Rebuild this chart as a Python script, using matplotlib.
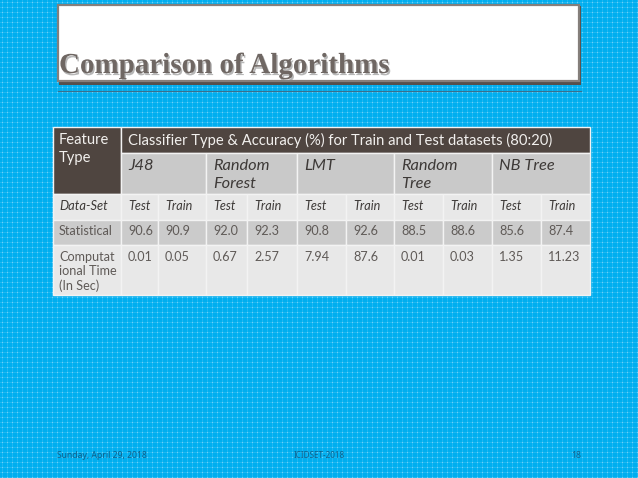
import numpy as np
import matplotlib
matplotlib.use("Agg")
import matplotlib.pyplot as plt
from matplotlib.patches import Rectangle
import matplotlib.patheffects as pe

title = "Comparison of Algorithms"
corner = "Feature\nType"
span_header = "Classifier Type & Accuracy (%) for Train and Test datasets (80:20)"
classifiers = ["J48", "Random\nForest", "LMT", "Random\nTree", "NB Tree"]
row_label_0 = "Data-Set"
splits = ["Test", "Train"] * 5
row_names = ["Statistical", "Computat\nional Time\n(In Sec)"]
statistical = ["90.6", "90.9", "92.0", "92.3", "90.8", "92.6", "88.5", "88.6", "85.6", "87.4"]
comp_time = ["0.01", "0.05", "0.67", "2.57", "7.94", "87.6", "0.01", "0.03", "1.35", "11.23"]
footer = ["Sunday, April 29, 2018", "ICIDSET-2018", "18"]

W, H = 638, 478
fig = plt.figure(figsize=(W / 100, H / 100), dpi=100)
ax = fig.add_axes([0, 0, 1, 1])
ax.set_xlim(0, W)
ax.set_ylim(H, 0)
ax.axis("off")

# Background with fine dotted grid
bg = np.zeros((H, W, 3)) + np.array([0, 174, 239]) / 255
light = np.array([30, 183, 241]) / 255
yy, xx = np.mgrid[0:H, 0:W]
mask = (xx % 5 == 2) | (yy % 5 == 2)
bg[mask] = light
bg[(xx % 5 == 2) & (yy % 5 == 2)] = np.array([110, 208, 247]) / 255
ax.imshow(bg, extent=(0, W, H, 0), interpolation="bilinear", aspect="auto", zorder=0)
ax.set_xlim(0, W)
ax.set_ylim(H, 0)

# Title box
ax.add_patch(Rectangle((59, 6), 522, 79, fc="#55504d", ec="none", zorder=2))
ax.add_patch(Rectangle((58, 5), 521, 76, fc="white", ec="#857f7b", lw=1.6, zorder=2))
ax.plot([58, 581], [90.5, 90.5], color="#3a6f8c", lw=0.8, zorder=2)
ax.text(59, 65.5, title, family="Liberation Serif", weight="bold", fontsize=20.9,
        color="#6f6763", va="center", ha="left", zorder=4,
        path_effects=[pe.SimplePatchShadow(offset=(1, -1.5), shadow_rgbFace="#888888", alpha=0.6),
                      pe.Normal()])

# Table geometry
edges = [53, 121, 158, 206, 247, 297, 346, 394, 443, 492, 541, 590]
rows = [127, 152.5, 193.5, 219.5, 245, 295]
FONT = "Lato"
dark = "#4f4540"
txt = "#5f5a57"
txt_dark = "#3d3937"
white = "#f3f3f3"
SIZE_H = 10.6
SIZE_I = 11.8
SIZE_S = 9.1

def cell(x0, x1, y0, y1, color):
    ax.add_patch(Rectangle((x0, y0), x1 - x0, y1 - y0, fc=color, ec=white, lw=1.0, zorder=3))

cell(edges[0], edges[1], rows[0], rows[2], dark)
cell(edges[1], edges[-1], rows[0], rows[1], dark)
ax.text(edges[0] + 6, rows[0] + 22, corner, family=FONT, fontsize=SIZE_H, color="#f2f0ee",
        va="center", ha="left", zorder=5, linespacing=1.28)
ax.text(edges[1] + 7, rows[0] + 13, span_header, family=FONT, fontsize=SIZE_H, color="#f2f0ee",
        va="center", ha="left", zorder=5)

for i, name in enumerate(classifiers):
    x0, x1 = edges[1 + 2 * i], edges[3 + 2 * i]
    cell(x0, x1, rows[1], rows[2], "#c9c9c9")
    ax.text(x0 + 7, rows[1] + 7, name, family=FONT, style="italic", fontsize=SIZE_I, color=txt_dark,
            va="top", ha="left", zorder=5, linespacing=1.3)

row_colors = ["#e8e8e8", "#cbcbcb", "#e8e8e8"]
for r, color in enumerate(row_colors):
    for c in range(len(edges) - 1):
        cell(edges[c], edges[c + 1], rows[2 + r], rows[3 + r], color)

ax.text(edges[0] + 6, (rows[2] + rows[3]) / 2 - 1, row_label_0, family=FONT, style="italic",
        fontsize=SIZE_S + 0.2, color=txt_dark, va="center", ha="left", zorder=5)
ax.text(edges[0] + 6, (rows[3] + rows[4]) / 2 - 1.5, row_names[0], family=FONT, fontsize=SIZE_S, color=txt,
        va="center", ha="left", zorder=5)
ax.text(edges[0] + 6, rows[4] + 6, row_names[1], family=FONT, fontsize=SIZE_S, color=txt,
        va="top", ha="left", zorder=5, linespacing=1.24)

for c in range(10):
    x = edges[c + 1] + 7
    ax.text(x, (rows[2] + rows[3]) / 2 - 1, splits[c], family=FONT, style="italic", fontsize=SIZE_S,
            color=txt_dark, va="center", ha="left", zorder=5)
    ax.text(x, (rows[3] + rows[4]) / 2 - 1.5, statistical[c], family=FONT, fontsize=SIZE_S, color=txt,
            va="center", ha="left", zorder=5)
    ax.text(x, rows[4] + 6, comp_time[c], family=FONT, fontsize=SIZE_S, color=txt,
            va="top", ha="left", zorder=5)

# Footer
fc = "#0f5f8a"
ax.text(57, 456, footer[0], family="Noto Sans", fontsize=6.2, color=fc, va="center", ha="left", zorder=5)
ax.text(319, 456, footer[1], family="Noto Sans", fontsize=5.8, color=fc, va="center", ha="center", zorder=5)
ax.text(581, 456, footer[2], family="Noto Sans", fontsize=6.2, color=fc, va="center", ha="right", zorder=5)

fig.savefig("out.png", dpi=100)
